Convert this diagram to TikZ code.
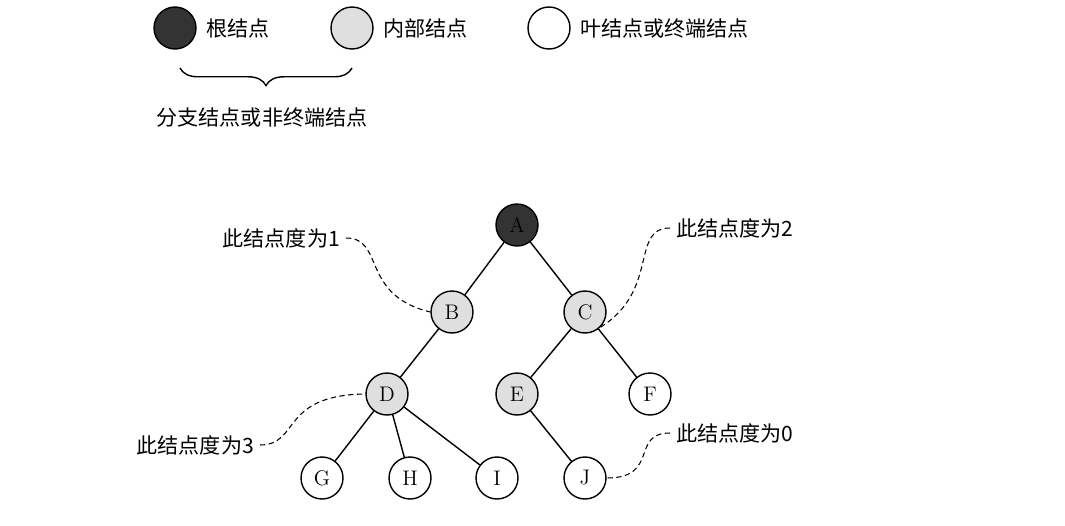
\documentclass[tikz,border=0pt]{standalone}
\usepackage{fontspec}
\newfontfamily\cjk{Noto Sans CJK SC}
\usetikzlibrary{decorations.pathreplacing}
\begin{document}
\begin{tikzpicture}[x=0.02cm,y=-0.02cm,
  nd/.style={circle,draw,line width=0.8pt,minimum size=0.84cm,inner sep=0pt,font=\large},
  inner/.style={nd,fill=gray!25},
  leaf/.style={nd,fill=white},
  rootn/.style={nd,fill=black!80},
  lbl/.style={font=\cjk\large},
  dl/.style={densely dashed,line width=0.6pt}]
\useasboundingbox (0,0) rectangle (1065,525);
% legend
\node[rootn] (l1) at (175,28) {};
\node[lbl,anchor=west] (t1) at (200,28) {根结点};
\node[inner] (l2) at (352,28) {};
\node[lbl,anchor=west] (t2) at (377,28) {内部结点};
\node[leaf] (l3) at (549,28) {};
\node[lbl,anchor=west] (t3) at (574,28) {叶结点或终端结点};
\draw[line width=0.8pt,decorate,decoration={brace,mirror,amplitude=10pt}] (180,68) -- (352,68);
\node[lbl] (t4) at (262,118) {分支结点或非终端结点};
% tree
\node[rootn] (A) at (517,225) {A};
\node[inner] (B) at (452,312) {B};
\node[inner] (C) at (585,312) {C};
\node[inner] (D) at (387,394) {D};
\node[inner] (E) at (517,394) {E};
\node[leaf] (F) at (650,394) {F};
\node[leaf] (G) at (322,478) {G};
\node[leaf] (H) at (410,478) {H};
\node[leaf] (I) at (497,478) {I};
\node[leaf] (J) at (585,478) {J};
\foreach \a/\b in {A/B,A/C,B/D,C/E,C/F,D/G,D/H,D/I,E/J}
  \draw[line width=0.8pt] (\a) -- (\b);
% annotations
\node[lbl,anchor=east] (n1) at (346,238) {此结点度为1};
\draw[dl] (n1.east) .. controls (385,238) and (360,295) .. (B.west);
\node[lbl,anchor=west] (n2) at (670,228) {此结点度为2};
\draw[dl] (n2.west) .. controls (630,228) and (660,290) .. (C.south east);
\node[lbl,anchor=east] (n3) at (260,445) {此结点度为3};
\draw[dl] (n3.east) .. controls (300,445) and (280,395) .. (D.west);
\node[lbl,anchor=west] (n4) at (670,433) {此结点度为0};
\draw[dl] (n4.west) .. controls (630,433) and (660,478) .. (J.east);
\end{tikzpicture}
\end{document}
